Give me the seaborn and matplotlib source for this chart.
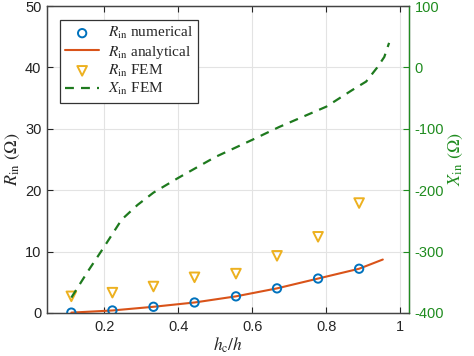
import numpy as np
import pandas as pd
import seaborn as sns
import matplotlib.pyplot as plt

# h_c/h sample positions
ratio = [0.111, 0.222, 0.333, 0.444, 0.556, 0.667, 0.778, 0.889]
r_numerical = [0.05, 0.4, 1.0, 1.7, 2.7, 4.0, 5.6, 7.2]
r_fem = [2.7, 3.3, 4.3, 5.8, 6.4, 9.3, 12.4, 17.9]

# analytical curve
ratio_analytical = [0.111, 0.222, 0.333, 0.444, 0.556, 0.667, 0.778, 0.889, 0.953]
r_analytical = [0.05, 0.4, 1.0, 1.7, 2.7, 4.0, 5.6, 7.2, 8.7]

# reactance from FEM
ratio_x = [0.111, 0.156, 0.2, 0.247, 0.29, 0.333, 0.4, 0.5, 0.6, 0.673, 0.8, 0.87, 0.908, 0.938, 0.957, 0.97]
x_fem = [-375, -332, -292, -248, -224, -204, -180, -146, -118, -97, -64, -37, -23, 0, 17, 40]

sns.set_style('ticks')
plt.rcParams['font.family'] = ['Liberation Sans', 'DejaVu Sans']
plt.rcParams['mathtext.fontset'] = 'stix'
plt.rcParams['axes.unicode_minus'] = False

blue = '#0072BD'
orange = '#D95319'
yellow = '#EDB120'
green = '#1E7A1E'
green_ax = '#1F8C1F'

fig = plt.figure(figsize=(4.74, 3.56), dpi=100)
ax = fig.add_axes([0.099, 0.121, 0.764, 0.862])
ax2 = ax.twinx()

df_num = pd.DataFrame({'x': ratio, 'num': r_numerical, 'fem': r_fem})
df_ana = pd.DataFrame({'x': ratio_analytical, 'y': r_analytical})
df_x = pd.DataFrame({'x': ratio_x, 'y': x_fem})

ax.scatter(df_num['x'], df_num['num'], marker='o', s=36, facecolors='none',
           edgecolors=blue, linewidths=1.4, zorder=4, label=r'$R_{\mathrm{in}}$ numerical')
sns.lineplot(data=df_ana, x='x', y='y', ax=ax, color=orange, lw=1.5, zorder=3,
             label=r'$R_{\mathrm{in}}$ analytical')
ax.scatter(df_num['x'], df_num['fem'], marker='v', s=48, facecolors='none',
           edgecolors=yellow, linewidths=1.4, zorder=4, label=r'$R_{\mathrm{in}}$ FEM')
sns.lineplot(data=df_x, x='x', y='y', ax=ax2, color=green, lw=1.6, dashes=(4, 3.2),
             label=r'$X_{\mathrm{in}}$ FEM')

ax.set_xlim(0.045, 1.024)
ax.set_ylim(0, 50)
ax2.set_ylim(-400, 100)
ax.set_xticks([0.2, 0.4, 0.6, 0.8, 1.0])
ax.set_xticklabels(['0.2', '0.4', '0.6', '0.8', '1'])
ax.set_yticks([0, 10, 20, 30, 40, 50])
ax2.set_yticks([-400, -300, -200, -100, 0, 100])

ax.grid(True, color='#e3e3e3', lw=0.8)
ax.set_axisbelow(True)

for a in (ax, ax2):
    a.tick_params(direction='in', length=4, labelsize=10.5, width=0.8)
ax.tick_params(axis='x', top=True, pad=5)
ax.tick_params(axis='y', colors='#222222', pad=4)
ax2.tick_params(axis='y', colors=green_ax, labelcolor=green_ax, pad=4)

for s in ['left', 'top', 'bottom']:
    ax.spines[s].set_color('#444444')
    ax2.spines[s].set_color('#444444')
ax2.spines['right'].set_color(green_ax)
for a in (ax, ax2):
    for s in a.spines.values():
        s.set_linewidth(0.9)

ax.set_xlabel(r'$h_{\mathrm{c}}/h$', fontsize=12.5, labelpad=1)
ax.set_ylabel(r'$R_{\mathrm{in}}$ $(\Omega)$', fontsize=13, labelpad=2)
ax2.set_ylabel(r'$X_{\mathrm{in}}$ $(\Omega)$', fontsize=13, color=green_ax, labelpad=2)

# combined legend
hs1, ls1 = ax.get_legend_handles_labels()
hs2, ls2 = ax2.get_legend_handles_labels()
order = [ls1.index(r'$R_{\mathrm{in}}$ numerical'), ls1.index(r'$R_{\mathrm{in}}$ analytical'),
         ls1.index(r'$R_{\mathrm{in}}$ FEM')]
handles = [hs1[i] for i in order] + hs2
labels = [ls1[i] for i in order] + ls2
if ax2.get_legend() is not None:
    ax2.get_legend().remove()
if ax.get_legend() is not None:
    ax.get_legend().remove()
leg = ax2.legend(handles, labels, loc='upper left', bbox_to_anchor=(0.015, 0.98),
                 prop={'family': 'Liberation Serif', 'size': 11}, frameon=True, fancybox=False,
                 edgecolor='#333333', framealpha=1, handlelength=2.2, borderpad=0.35,
                 labelspacing=0.15, handletextpad=0.6)
leg.get_frame().set_linewidth(0.9)

fig.savefig('out.png', dpi=100)
